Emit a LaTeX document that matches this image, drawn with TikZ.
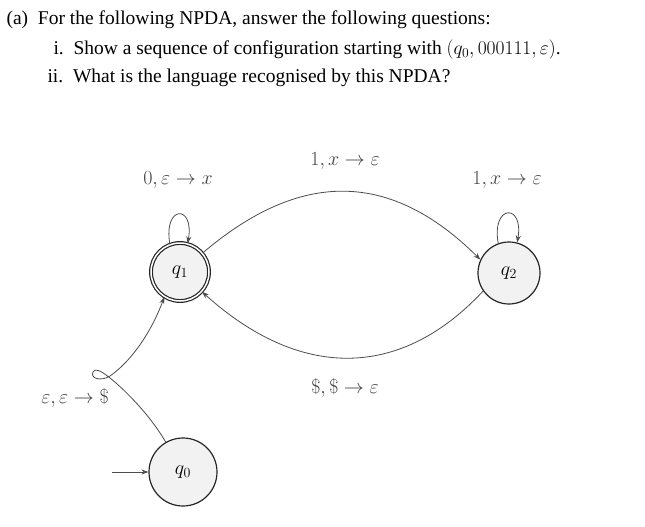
\RequirePackage{fix-cm}
\documentclass[tikz,border=0pt]{standalone}
\usepackage{fontspec}
\setmainfont{Liberation Serif}
\usetikzlibrary{arrows.meta}
\begin{document}
\begin{tikzpicture}[x=1pt,y=-1pt,
 st/.style={circle,draw=black!85,line width=1.2pt,fill=black!5,minimum size=62pt,inner sep=0pt,font=\fontsize{20}{24}\selectfont},
 acc/.style={st,double,double distance=1.5pt,minimum size=58pt},
 lab/.style={text=black!75,font=\fontsize{20}{24}\selectfont},
 txt/.style={anchor=west,font=\fontsize{19.5}{23}\selectfont},
 ed/.style={draw=black!70,line width=0.8pt,-{Stealth[length=7pt,width=5pt]}}]
\useasboundingbox (0,0) rectangle (645,527);
\node[txt] (t1) at (3,20) {(a)\ \ For the following NPDA, answer the following questions:};
\node[txt] (t2) at (50,50) {i.\ \ Show a sequence of configuration starting with $(q_0,000111,\varepsilon)$.};
\node[txt] (t3) at (44,78) {ii.\ \ What is the language recognised by this NPDA?};
\node[acc] (q1) at (180,272) {$q_1$};
\node[st] (q2) at (509,273) {$q_2$};
\node[st,minimum size=68pt] (q0) at (183,472) {$q_0$};
\coordinate (s) at (112,472);
\draw[ed] (s) -- (q0);
\draw[ed] (q1.110) .. controls +(-100:40) and +(-80:40) .. (q1.75);
\draw[ed] (q2.110) .. controls +(-100:40) and +(-80:40) .. (q2.75);
\node[lab] (l1) at (178,180) {$0,\varepsilon\rightarrow x$};
\node[lab] (l2) at (507,180) {$1,x\rightarrow\varepsilon$};
\draw[ed] (q1.40) .. controls (300,170) and (390,170) .. (q2.155);
\draw[ed] (q2.215) .. controls (400,380) and (300,380) .. (q1.-42);
\node[lab] (l3) at (345,161) {$1,x\rightarrow\varepsilon$};
\node[lab] (l4) at (345,388) {$\$,\$\rightarrow\varepsilon$};
\draw[ed] (q0.120) .. controls (150,415) and (125,390) .. (110,378)
  .. controls (100,370) and (95,368) .. (93,372)
  .. controls (90,378) and (100,382) .. (110,376)
  .. controls (130,362) and (150,335) .. (q1.238);
\node[lab] (l5) at (75,398) {$\varepsilon,\varepsilon\rightarrow\$$};
\end{tikzpicture}
\end{document}
